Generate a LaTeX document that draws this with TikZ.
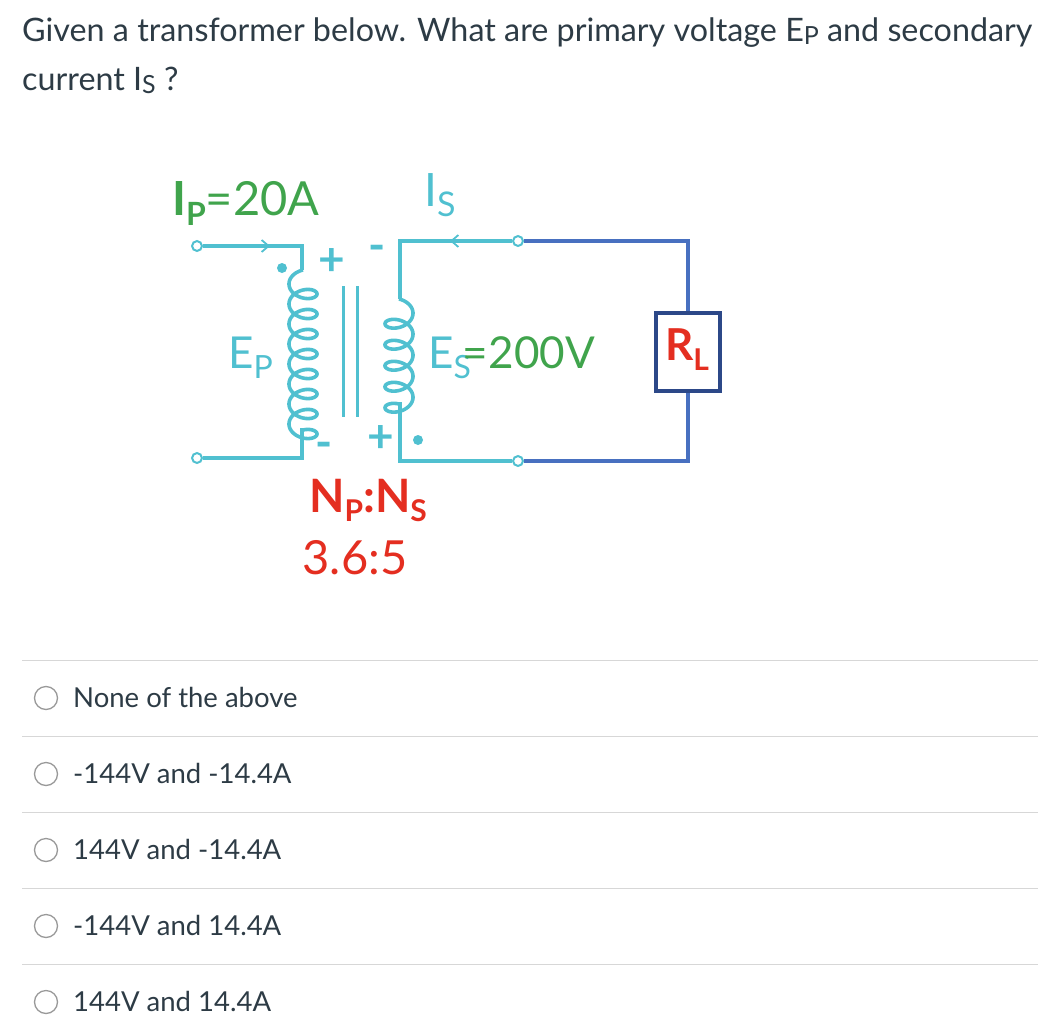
\documentclass[tikz,border=0pt]{standalone}
\usepackage{fontspec}
\setmainfont{Lato}
\usetikzlibrary{arrows.meta}
\definecolor{cy}{RGB}{80,192,208}
\definecolor{gr}{RGB}{64,164,76}
\definecolor{rd}{RGB}{228,46,32}
\definecolor{bw}{RGB}{72,112,192}
\definecolor{bx}{RGB}{44,72,136}
\definecolor{sep}{RGB}{215,215,215}
\definecolor{txt}{RGB}{45,59,69}
\begin{document}
\begin{tikzpicture}[x=1pt,y=-1pt,
  wire/.style={cy,line width=3.6pt},
  term/.style={circle,draw=cy,fill=white,line width=2pt,inner sep=3.5pt},
  sign/.style={text=cy,font=\fontsize{46}{46}\selectfont\bfseries,inner sep=0},
  opt/.style={anchor=west,font=\fontsize{27.5}{32}\selectfont,text=txt,inner sep=0},
  radio/.style={circle,draw=gray!80,line width=1.3pt,minimum size=23pt,inner sep=0},
  sepl/.style={sep,line width=1pt}]
\useasboundingbox (0,0) rectangle (1038,1030);
\node[anchor=west,inner sep=0,text=txt,font=\fontsize{32.3}{38}\selectfont] (q1) at (22,33) {Given a transformer below. What are primary voltage E\raisebox{-3pt}{\fontsize{25}{25}\selectfont P} and secondary};
\node[anchor=west,inner sep=0,text=txt,font=\fontsize{32.3}{38}\selectfont] (q2) at (22,80) {current I\raisebox{-3pt}{\fontsize{25}{25}\selectfont S} ?};
% primary
\node[term] (pt) at (197,246) {};
\node[term] (pb) at (197,458) {};
\coordinate (p1) at (302,246);
\coordinate (p2) at (302,458);
\draw[wire] (pt) -- (p1) -- (302,270);
\draw[wire] plot[domain=90:2970,samples=500,smooth] ({303+14*cos(\x)},{270-5+9+(\x/360)*20-9*sin(\x)});
\draw[wire] (303,430) -- (302,430) -- (p2) -- (pb);
\draw[cy,line width=1.8pt,-{Straight Barb[length=7pt,width=12pt]}] (238,246) -- (270,246);
% core
\draw[cy,line width=3pt] (343,286) -- (343,417) (357,286) -- (357,417);
% secondary
\node[term] (st) at (518,241) {};
\node[term] (sb) at (518,461) {};
\coordinate (s1) at (400,241);
\coordinate (s2) at (400,461);
\draw[wire] (st) -- (s1) -- (400,299);
\draw[wire] plot[domain=90:1890,samples=300,smooth] ({399-14*cos(\x)},{299-5.25+9+(\x/360)*21-9*sin(\x)});
\draw[wire] (399,404) -- (400,404) -- (s2) -- (sb);
\draw[cy,line width=1.8pt,-{Straight Barb[length=7pt,width=12pt]}] (488,241) -- (450,241);
% dots and signs
\fill[cy] (282,268) circle (5pt);
\fill[cy] (418,440) circle (5pt);
\node[sign] (pp) at (332,262) {+};
\node[sign] (pm) at (377,253) {-};
\node[sign] (bm) at (324,450) {-};
\node[sign] (bp) at (381,439) {+};
% load
\node[draw=bx,line width=3.5pt,minimum width=64pt,minimum height=78pt,inner sep=0,fill=white] (rl) at (688,352) {};
\node[text=rd,font=\fontsize{44}{44}\selectfont\bfseries,inner sep=0] (rlt) at (687,350) {R\raisebox{-10pt}{\fontsize{30}{30}\selectfont L}};
\draw[bw,line width=3.5pt] (st) -- (688,241) -- (rl.north);
\draw[bw,line width=3.5pt] (sb) -- (688,461) -- (rl.south);
% labels
\node[anchor=base west,inner sep=0,text=gr,font=\fontsize{47}{47}\selectfont] (ip) at (172,215) {\textbf{I}\raisebox{-10pt}{\fontsize{32}{32}\selectfont\bfseries P}=20A};
\node[anchor=base west,inner sep=0,text=cy,font=\fontsize{46}{46}\selectfont] (is) at (424,206) {I\raisebox{-10pt}{\fontsize{34}{34}\selectfont S}};
\node[anchor=base west,inner sep=0,text=cy,font=\fontsize{44}{44}\selectfont] (ep) at (228,368) {E\raisebox{-10pt}{\fontsize{32}{32}\selectfont P}};
\node[anchor=base west,inner sep=0,font=\fontsize{44}{44}\selectfont] (es) at (428,368) {\textcolor{cy}{E\raisebox{-10pt}{\fontsize{32}{32}\selectfont S}}\hspace{-8pt}\textcolor{gr}{=200V}};
\node[text=rd,font=\fontsize{46}{46}\selectfont\bfseries] (n) at (368,500) {N\raisebox{-9pt}{\fontsize{30}{30}\selectfont P}:N\raisebox{-9pt}{\fontsize{30}{30}\selectfont S}};
\node[text=rd,font=\fontsize{47}{47}\selectfont] (r) at (355,558) {3.6:5};
% options
\foreach \y in {660,736,812,888,964} \draw[sepl] (22,\y) -- (1038,\y);
\node[radio] (r1) at (46,698) {}; \node[opt] (o1) at (73,697) {None of the above};
\node[radio] (r2) at (46,774) {}; \node[opt] (o2) at (73,773) {-144V and -14.4A};
\node[radio] (r3) at (46,850) {}; \node[opt] (o3) at (73,849) {144V and -14.4A};
\node[radio] (r4) at (46,926) {}; \node[opt] (o4) at (73,925) {-144V and 14.4A};
\node[radio] (r5) at (46,1002) {}; \node[opt] (o5) at (73,1001) {144V and 14.4A};
\end{tikzpicture}
\end{document}
